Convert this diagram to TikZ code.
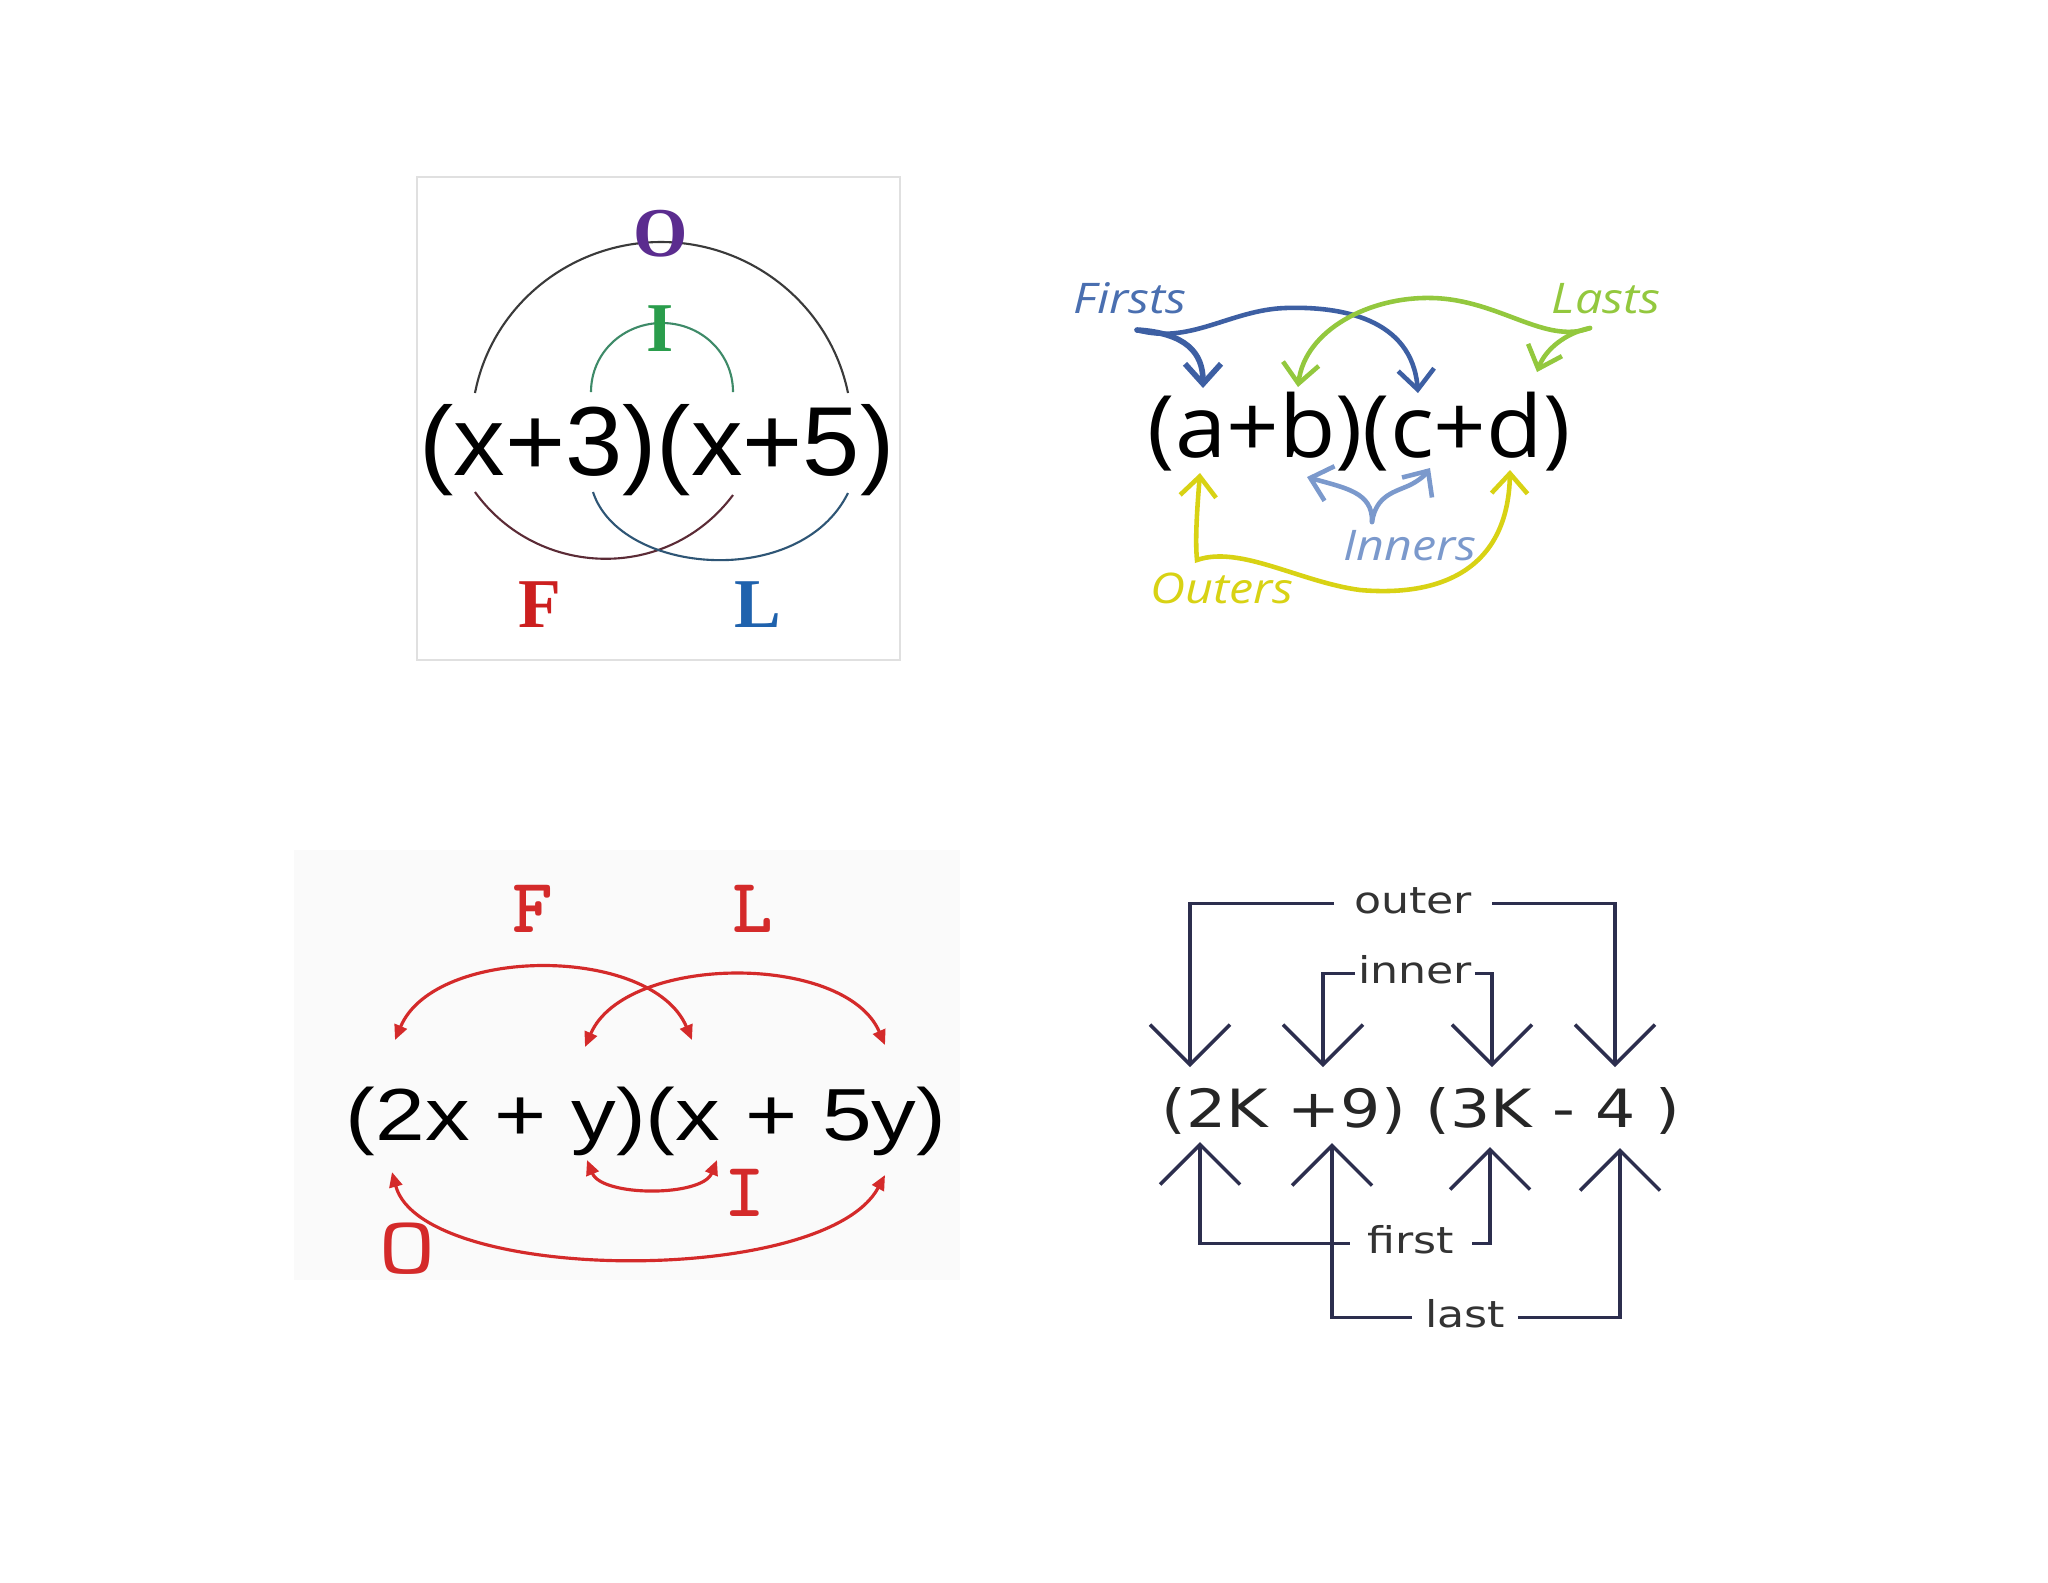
\documentclass[tikz,border=0pt]{standalone}
\usepackage{fontspec}
\setmainfont{DejaVu Sans}
\newfontfamily\foilsans[FakeStretch=1.05]{Liberation Sans}
\newfontfamily\foilserif{Liberation Serif}
\newfontfamily\comicsans[FakeStretch=1.07]{Open Sans}
\newfontfamily\tagsans[FakeStretch=1.15]{Open Sans}
\newfontfamily\expsans[FakeStretch=1.21]{Liberation Sans}
\newfontfamily\kfont[FakeStretch=1.2]{DejaVu Sans}
\usetikzlibrary{arrows.meta}
\definecolor{foilO}{HTML}{5B2C8F}
\definecolor{foilI}{HTML}{2A9D4C}
\definecolor{foilF}{HTML}{CC1F1F}
\definecolor{foilL}{HTML}{1F62AD}
\definecolor{arcO}{HTML}{3A3A3A}
\definecolor{arcI}{HTML}{3E8A68}
\definecolor{arcF}{HTML}{5B2B36}
\definecolor{arcL}{HTML}{2E5575}
\definecolor{firsttag}{HTML}{4A6FB0}
\definecolor{firstline}{HTML}{3D5FA3}
\definecolor{lastgreen}{HTML}{93C83E}
\definecolor{innerblue}{HTML}{7B99CC}
\definecolor{outeryellow}{HTML}{D8D214}
\definecolor{redline}{HTML}{D42A2A}
\definecolor{navyline}{HTML}{2C2E4E}
\begin{document}
\begin{tikzpicture}[x=0.1mm, y=-0.1mm, every node/.style={inner sep=0pt, outer sep=0pt}, line join=miter,
    expr/.style={anchor=base, text=black},
    foilarc/.style={line width=0.6pt},
    foiltag/.style={anchor=base, font=\foilserif\bfseries\fontsize{19.9pt}{22pt}\selectfont},
    tag/.style={anchor=base, font=\tagsans\itshape\fontsize{12pt}{14pt}\selectfont},
    handarrow/.style={line width=1.3pt, line cap=round, -{Straight Barb[length=2mm,width=3.6mm]}},
    twotips/.style={{Straight Barb[length=2mm,width=3.6mm]}-{Straight Barb[length=2mm,width=3.6mm]}},
    redarc/.style={draw=redline, line width=0.9pt, {Triangle[length=1.5mm,width=1.3mm]}-{Triangle[length=1.5mm,width=1.3mm]}},
    redtag/.style={anchor=base, text=redline, font=\ttfamily\bfseries\fontsize{22pt}{24pt}\selectfont},
    stepline/.style={draw=navyline, line width=1pt, -{Straight Barb[length=4mm,width=8mm]}},
    steptag/.style={anchor=base, text=black!80, font=\kfont\fontsize{10.5pt}{12pt}\selectfont}]
    \path[fill=white] (0,0) rectangle (2048,1582);
    \draw[black!12] (417,177) rectangle (900,660);
    \fill[black!2] (294,850) rectangle (960,1280);

    \coordinate (ox) at (475,393);
    \coordinate (o5) at (848,393);
    \coordinate (i3) at (591,392);
    \coordinate (ix) at (733,392);
    \coordinate (fx) at (475,492);
    \coordinate (fxx) at (733,495);
    \coordinate (l3) at (593,492);
    \coordinate (l5) at (848,493);
    \draw[foilarc, arcO] (ox) .. controls (492,305) and (571,242) .. (661,242) .. controls (751,242) and (830,305) .. (o5);
    \draw[foilarc, arcI] (i3) .. controls (591,353) and (623,323) .. (662,323) .. controls (701,323) and (733,353) .. (ix);
    \draw[foilarc, arcF] (fx) .. controls (538,579) and (668,582) .. (fxx);
    \draw[foilarc, arcL] (l3) .. controls (620,575) and (800,590) .. (l5);
    \node[expr, font=\foilsans\fontsize{27.9pt}{30pt}\selectfont] (foil) at (657,475) {(x+3)(x+5)};
    \node[foiltag, text=foilO] (tagO) at (661,256) {O};
    \node[foiltag, text=foilI] (tagI) at (660,351) {I};
    \node[foiltag, text=foilF] (tagF) at (540,627) {F};
    \node[foiltag, text=foilL] (tagL) at (758,627) {L};

    \node[expr, font=\comicsans\fontsize{24.5pt}{26pt}\selectfont] (abcd) at (1359,457) {(a+b)(c+d)};
    \node[tag, text=firsttag] (firsts) at (1130,313) {Firsts};
    \node[tag, text=lastgreen] (lasts) at (1606,313) {Lasts};
    \node[tag, text=innerblue] (inners) at (1410,560) {Inners};
    \node[tag, text=outeryellow] (outers) at (1222,603) {Outers};
    \coordinate (fs) at (1137,330);
    \coordinate (ls) at (1590,328);
    \coordinate (ins) at (1372,522);
    \coordinate (pa) at (1203,388);
    \coordinate (pb) at (1298,387);
    \coordinate (pc) at (1418,393);
    \coordinate (pd) at (1537,372);
    \coordinate (qa) at (1200,473);
    \coordinate (qb) at (1307,477);
    \coordinate (qc) at (1430,468);
    \coordinate (qd) at (1510,470);
    \draw[handarrow, firstline, line width=1.6pt] (fs) .. controls (1185,333) and (1203,352) .. (pa);
    \draw[handarrow, firstline] (fs) .. controls (1190,345) and (1230,310) .. (1285,308) .. controls (1340,306) and (1412,318) .. (pc);
    \draw[handarrow, lastgreen] (ls) .. controls (1565,333) and (1545,350) .. (pd);
    \draw[handarrow, lastgreen] (ls) .. controls (1545,345) and (1500,300) .. (1433,298) .. controls (1370,296) and (1305,330) .. (pb);
    \draw[handarrow, innerblue] (ins) .. controls (1373,492) and (1345,488) .. (qb);
    \draw[handarrow, innerblue] (ins) .. controls (1376,495) and (1395,492) .. (1410,485) .. controls (1420,480) and (1426,474) .. (qc);
    \draw[handarrow, twotips, outeryellow] (qa) .. controls (1197,510) and (1195,540) .. (1197,560) .. controls (1240,545) and (1300,582) .. (1360,590) .. controls (1440,597) and (1508,570) .. (qd);

    \node[expr, font=\expsans\fontsize{21pt}{23pt}\selectfont] (twoxy) at (646,1140) {(2x + y)(x + 5y)};
    \node[redtag] (redF) at (533,932) {F};
    \node[redtag] (redL) at (753,932) {L};
    \node[redtag] (redI) at (745,1216) {I};
    \node[redtag, font=\ttfamily\fontsize{22pt}{24pt}\selectfont] (redO) at (407,1273) {\scalebox{1.45}[1.05]{O}};
    \coordinate (f2x) at (395,1040);
    \coordinate (fx2) at (692,1040);
    \coordinate (ly) at (585,1047);
    \coordinate (l5y) at (885,1045);
    \coordinate (iy) at (587,1160);
    \coordinate (ix2) at (717,1160);
    \coordinate (o2x) at (392,1172);
    \coordinate (o5y) at (885,1175);
    \draw[redarc] (f2x) .. controls +(40,-95) and +(-40,-95) .. (fx2);
    \draw[redarc] (ly) .. controls +(40,-93) and +(-40,-93) .. (l5y);
    \draw[redarc] (iy) .. controls +(15,37) and +(-15,37) .. (ix2);
    \draw[redarc] (o2x) .. controls +(30,112) and +(-60,112) .. (o5y);

    \node[expr, text=black!85, font=\kfont\fontsize{15pt}{17pt}\selectfont] (kexpr) at (1421,1127) {(2K +9) (3K - 4 )};
    \node[steptag, inner xsep=2mm] (outer) at (1413,913) {outer};
    \node[steptag, inner xsep=0.3mm] (inner) at (1415,983) {inner};
    \node[steptag, inner xsep=1.8mm] (first) at (1411,1253) {first};
    \node[steptag, inner xsep=1.3mm] (last) at (1465,1327) {last};
    \coordinate (k2t) at (1190,1067);
    \coordinate (k9t) at (1323,1067);
    \coordinate (k3t) at (1492,1067);
    \coordinate (k4t) at (1615,1067);
    \coordinate (k2b) at (1200,1142);
    \coordinate (k9b) at (1332,1143);
    \coordinate (k3b) at (1490,1147);
    \coordinate (k4b) at (1620,1148);
    \draw[stepline] (outer.mid west) -| (k2t);
    \draw[stepline] (outer.mid east) -| (k4t);
    \draw[stepline] (inner.mid west) -| (k9t);
    \draw[stepline] (inner.mid east) -| (k3t);
    \draw[stepline] (first.mid west) -| (k2b);
    \draw[stepline] (first.mid east) -| (k3b);
    \draw[stepline] (last.mid west) -| (k9b);
    \draw[stepline] (last.mid east) -| (k4b);
\end{tikzpicture}
\end{document}
